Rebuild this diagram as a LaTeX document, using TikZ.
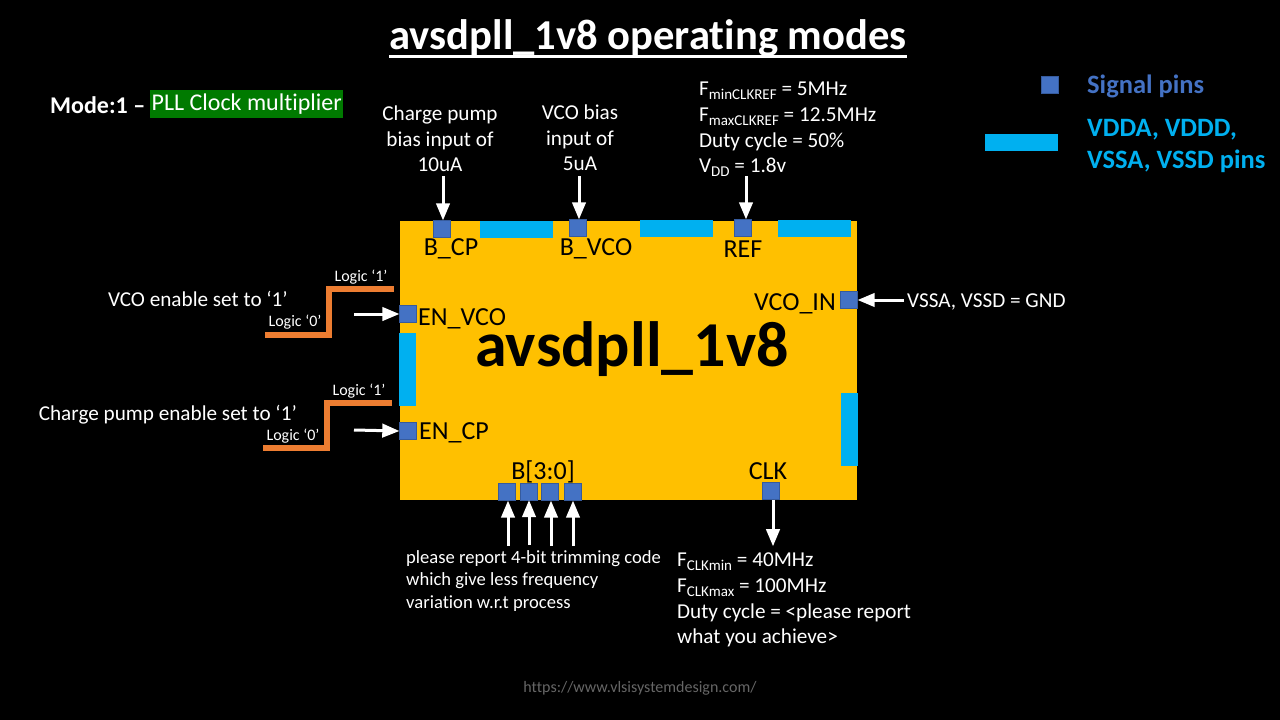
\documentclass[tikz,border=0pt]{standalone}
\usepackage{fontspec}
\setmainfont{Carlito}[Ligatures=NoCommon]
\usetikzlibrary{arrows}
\definecolor{blockfill}{HTML}{FFC000}
\definecolor{pinblue}{HTML}{4472C4}
\definecolor{railblue}{HTML}{00B0F0}
\definecolor{stepline}{HTML}{ED7D31}
\definecolor{modegreen}{HTML}{007A00}
\newcommand{\lowsub}[1]{\raisebox{-4pt}{\fontsize{15}{15}\selectfont #1}}
\tikzstyle{pin} = [rectangle, minimum width=17, minimum height=17, inner sep=0, draw=pinblue!80!black, line width=0.7, fill=pinblue]
\tikzstyle{railh} = [rectangle, minimum width=73, minimum height=17, inner sep=0, fill=railblue]
\tikzstyle{railv} = [rectangle, minimum width=17, minimum height=73, inner sep=0, fill=railblue]
\tikzstyle{pinname} = [inner sep=0, text=black, font=\fontsize{26}{30}\selectfont]
\tikzstyle{note} = [inner sep=0, text=white, align=left, font=\fontsize{21.2}{25.6}\selectfont]
\tikzstyle{notec} = [note, align=center]
\tikzstyle{logic} = [inner sep=0, text=white, font=\fontsize{16}{18}\selectfont]
\tikzstyle{arrow} = [line width=3, white, -triangle 45]
\tikzstyle{stepwire} = [line width=5.5, stepline]

\begin{document}
\begin{tikzpicture}[x=1pt, y=-1pt]
\useasboundingbox (0,0) rectangle (1280,720);
\fill[black] (0,0) rectangle (1280,720);

\node (title) [inner sep=0, text=white, font=\fontsize{42.6}{48}\selectfont\bfseries] at (648,38) {avsdpll\_1v8 operating modes};
\draw [white, line width=3] ([yshift=-7]title.base west) -- ([yshift=-7]title.base east);
\node (mode) [inner sep=0, text=white, anchor=west, font=\fontsize{24}{28}\selectfont\bfseries] at (50,105) {Mode:1 –};
\node (modename) [text=white, fill=modegreen, anchor=west, inner sep=0, minimum width=193, minimum height=28, font=\fontsize{24}{28}\selectfont] at (150,104) {\raisebox{-1pt}{PLL Clock multiplier}};

% block
\node (block) [rectangle, fill=blockfill, inner sep=0, minimum width=457, minimum height=279] at (628.5,360.5) {};
\node (blockname) [inner sep=0, text=black, font=\fontsize{64}{70}\selectfont\bfseries] at (632,349) {avsdpll\_1v8};

% rails
\node (rail1) [railh] at (516.5,229.5) {};
\node (rail2) [railh] at (676.5,228.5) {};
\node (rail3) [railh] at (814.5,228.5) {};
\node (rail4) [railv] at (407.5,369.5) {};
\node (rail5) [railv] at (849.5,429) {};

% pins
\node (bcp) [pin] at (442,229) {};
\node (bvco) [pin] at (578,228) {};
\node (ref) [pin] at (743,228) {};
\node (envco) [pin] at (408,314) {};
\node (encp) [pin] at (408,431) {};
\node (vcoin) [pin] at (849,300) {};
\node (b3) [pin] at (507,492) {};
\node (b2) [pin] at (528.5,491.5) {};
\node (b1) [pin] at (550,492) {};
\node (b0) [pin] at (573,492) {};
\node (clk) [pin] at (771,491) {};

\node (bcpname) [pinname] at (451,249) {B\_CP};
\node (bvconame) [pinname] at (596,249) {B\_VCO};
\node (refname) [pinname] at (743,249) {REF};
\node (envconame) [pinname, anchor=west] at (418,319) {EN\_VCO};
\node (encpname) [pinname, anchor=west] at (419,433) {EN\_CP};
\node (vcoinname) [pinname, anchor=east] at (836,304) {VCO\_IN};
\node (bname) [pinname] at (543,472) {B[3:0]};
\node (clkname) [pinname] at (768,471) {CLK};

% notes
\node (bcpnote) [notec] at (440,139) {Charge pump\\bias input of\\10uA};
\node (bvconote) [notec] at (580,138) {VCO bias\\input of\\5uA};
\node (refnote) [note, anchor=north west] at (699,82) {F\lowsub{minCLKREF} = 5MHz\\F\lowsub{maxCLKREF} = 12.5MHz\\Duty cycle = 50\%\\V\lowsub{DD} = 1.8v};
\node (vcoinnote) [note, anchor=west] at (907,302) {VSSA, VSSD = GND};
\node (envconote) [note, anchor=east] at (288,299) {VCO enable set to ‘1’};
\node (encpnote) [note, anchor=east] at (297,415) {Charge pump enable set to ‘1’};
\node (bnote) [inner sep=0, text=white, align=left, anchor=north west, font=\fontsize{18.6}{22.5}\selectfont] at (406,550) {please report 4-bit trimming code\\which give less frequency\\variation w.r.t process};
\node (clknote) [note, anchor=north west] at (677,553) {F\lowsub{CLKmin} = 40MHz\\F\lowsub{CLKmax} = 100MHz\\Duty cycle = <please report\\what you achieve>};

% logic steps
\coordinate (step1a) at (265,335);
\coordinate (step1b) at (394,289);
\coordinate (step2a) at (263,448);
\coordinate (step2b) at (392,403);
\draw [stepwire] (step1a) -- (329,335) -- (329,289) -- (step1b);
\draw [stepwire] (step2a) -- (327,448) -- (327,403) -- (step2b);
\node (logic1a) [logic] at (361,277) {Logic ‘1’};
\node (logic0a) [logic] at (295,322) {Logic ‘0’};
\node (logic1b) [logic] at (359,391) {Logic ‘1’};
\node (logic0b) [logic] at (293,436) {Logic ‘0’};

% arrows
\coordinate (bcpin) at (443,176);
\coordinate (bvcoin) at (579,176);
\coordinate (refin) at (746,176);
\coordinate (envcoin) at (354,314);
\coordinate (encpin) at (354,430);
\coordinate (vcoinin) at (904,300);
\coordinate (b3in) at (508,546);
\coordinate (b2in) at (529,545);
\coordinate (b1in) at (551,546);
\coordinate (b0in) at (573,546);
\coordinate (clkout) at (773,546);
\draw [arrow] (bcpin) -- (bcp.north -| bcpin);
\draw [arrow] (bvcoin) -- (bvco.north -| bvcoin);
\draw [arrow] (refin) -- (ref.north -| refin);
\draw [arrow] (envcoin) -- (envco.west);
\draw [arrow] (encpin) -- (encp.west);
\draw [arrow] (vcoinin) -- (vcoin.east);
\draw [arrow] (b3in) -- (b3.south -| b3in);
\draw [arrow] (b2in) -- (b2.south -| b2in);
\draw [arrow] (b1in) -- (b1.south -| b1in);
\draw [arrow] (b0in) -- (b0.south -| b0in);
\draw [arrow] (clk.south -| clkout) -- (clkout);

% legend
\node (legendpin) [pin] at (1050,85) {};
\node (legendrail) [railh] at (1021.5,142.5) {};
\node (legendpintext) [inner sep=0, anchor=west, text=pinblue, font=\fontsize{26.5}{29}\selectfont\bfseries] at (1087,86) {Signal pins};
\node (legendrailtext) [inner sep=0, anchor=west, align=left, text=railblue, font=\fontsize{26.5}{32}\selectfont\bfseries] at (1087,146) {VDDA, VDDD,\\VSSA, VSSD pins};

\node (url) [inner sep=0, text=black!60, font=\fontsize{16}{18}\selectfont] at (640,688) {https://www.vlsisystemdesign.com/};
\end{tikzpicture}
\end{document}
